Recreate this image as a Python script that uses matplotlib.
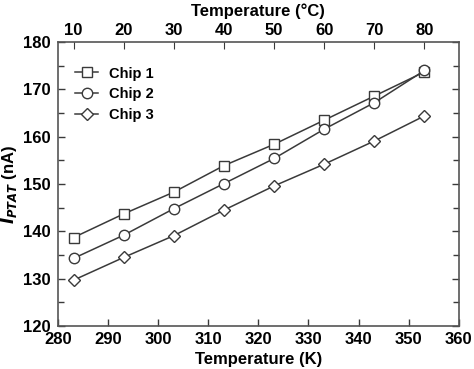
import matplotlib.pyplot as plt
from matplotlib.ticker import MultipleLocator

plt.rcParams['font.family'] = ['Liberation Sans', 'DejaVu Sans']
plt.rcParams['font.weight'] = 'bold'

# data
temp_k = [283.15, 293.15, 303.15, 313.15, 323.15, 333.15, 343.15, 353.15]
chip1 = [138.7, 143.7, 148.3, 153.9, 158.4, 163.5, 168.6, 173.7]
chip2 = [134.3, 139.2, 144.8, 150.1, 155.4, 161.6, 167.2, 174.0]
chip3 = [129.7, 134.5, 139.1, 144.5, 149.6, 154.2, 159.1, 164.4]
celsius_ticks = [10, 20, 30, 40, 50, 60, 70, 80]

col = '#3a3a3a'
fig = plt.figure(figsize=(4.74, 3.69), dpi=100)
ax = fig.add_axes([0.122, 0.1165, 0.846, 0.7695])

ax.plot(temp_k, chip1, marker='s', color=col, mfc='white', ms=7, lw=1.1, label='Chip 1')
ax.plot(temp_k, chip2, marker='o', color=col, mfc='white', ms=7.5, lw=1.1, label='Chip 2')
ax.plot(temp_k, chip3, marker='D', color=col, mfc='white', ms=6.5, lw=1.1, label='Chip 3')

ax.set_xlim(280, 360)
ax.set_ylim(120, 180)
ax.xaxis.set_major_locator(MultipleLocator(10))
ax.yaxis.set_major_locator(MultipleLocator(10))
ax.yaxis.set_minor_locator(MultipleLocator(5))
ax.tick_params(which='both', direction='in', right=True, colors=col, labelcolor='black',
               labelsize=12, width=1)
ax.tick_params(which='major', length=5)
ax.tick_params(which='minor', length=4)
ax.tick_params(axis='x', pad=4)
ax.tick_params(axis='y', pad=5)
for s in ax.spines.values():
    s.set_color('#555555')
    s.set_linewidth(1.2)

ax.set_xlabel('Temperature (K)', fontsize=12, fontweight='bold', labelpad=4)
ax.set_ylabel(r'$\mathbf{\mathit{I}_{\mathit{PTAT}}}$ (nA)', fontsize=12, fontweight='bold', labelpad=3)

top = ax.twiny()
top.set_xlim(280 - 273.15, 360 - 273.15)
top.set_xticks(celsius_ticks)
top.tick_params(direction='in', length=5, colors=col, labelcolor='black', labelsize=12, pad=3)
top.set_xlabel('Temperature (°C)', fontsize=12, fontweight='bold', labelpad=5)
for s in top.spines.values():
    s.set_visible(False)

ax.legend(loc='upper left', bbox_to_anchor=(0.01, 0.96), frameon=False, fontsize=10.5,
          handlelength=1.6, labelspacing=0.45, handletextpad=0.7)

fig.savefig('out.png', dpi=100)
